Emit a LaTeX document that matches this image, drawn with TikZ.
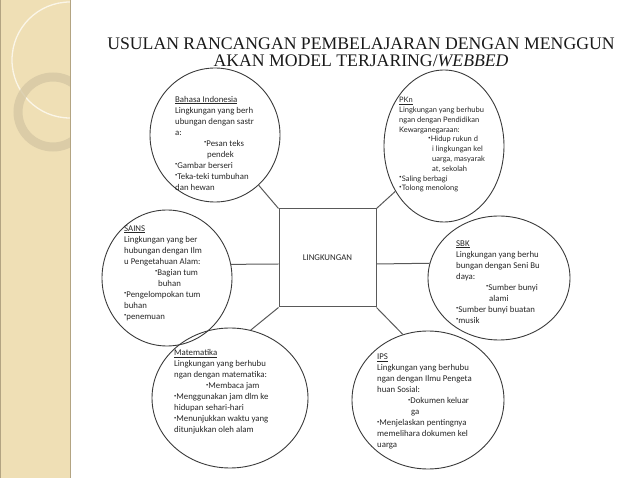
\documentclass[tikz,border=0pt]{standalone}
\usepackage{fontspec}
\setmainfont{Carlito}
\newfontfamily\titlefont{Liberation Serif}
\newfontfamily\gillfont{Lato}
\usetikzlibrary{shapes.geometric}
\definecolor{panel}{HTML}{EFDFB5}
\definecolor{panelline}{HTML}{B3A482}
\definecolor{ringc}{HTML}{D6C8A4}
\definecolor{arcc}{HTML}{FBF6E8}
\definecolor{outline}{HTML}{3A3A3A}
\definecolor{conn}{HTML}{595959}
\newcommand\bul{\raisebox{0.3em}{\fontsize{4.5pt}{4.5pt}\selectfont\textbullet}}
\begin{document}
\begin{tikzpicture}[x=1pt,y=1pt,
  bubble/.style={draw=outline, line width=0.9pt, ellipse, inner sep=0pt, minimum width=#1},
  body/.style={anchor=north west, inner sep=0pt, align=left, text=black!85, font=\fontsize{8.8pt}{11pt}\selectfont},
  pknbody/.style={anchor=north west, inner sep=0pt, align=left, text=black!85, font=\gillfont\fontsize{7.5pt}{9.8pt}\selectfont},
  link/.style={draw=conn, line width=1pt},
  ttl/.style={anchor=base, inner sep=0pt, font=\titlefont\fontsize{17.7pt}{17pt}\selectfont}]
\useasboundingbox (0,0) rectangle (638,-478);
% side panel
\fill[panel] (0,0) rectangle (70,-478);
\begin{scope}
\clip (0,0) rectangle (70,-478);
\draw[arcc, line width=1.3pt] (70,-60) circle (58pt);
\draw[ringc, line width=9pt, opacity=0.8] (53,-112) circle (35pt);
\end{scope}
\draw[panelline, line width=0.8pt] (70,0) -- (70,-478);
\draw[panelline, line width=0.8pt] (0.4,0) -- (0.4,-478);
% title
\node[ttl, text=black!90] (t1) at (361,-50) {USULAN RANCANGAN PEMBELAJARAN DENGAN MENGGUN};
\node[ttl, text=black!90] (t2) at (361,-67) {AKAN MODEL TERJARING/\textit{WEBBED}};
% bubbles
\node[bubble=130pt, minimum height=134pt] (bahasa) at (215,-135) {};
\node[bubble=120pt, minimum height=152pt] (pkn) at (444,-146) {};
\node[bubble=130pt, minimum height=136pt] (sains) at (167,-278) {};
\node[bubble=142pt, minimum height=124pt] (sbk) at (499,-278) {};
\node[bubble=156pt, minimum height=140pt] (mat) at (230,-398) {};
\node[bubble=152pt, minimum height=138pt] (ips) at (428,-400) {};
% centre
\node[draw=conn, line width=1pt, minimum width=97pt, minimum height=98pt, inner sep=0pt,
      font=\fontsize{8.8pt}{10pt}\selectfont, text=black!85] (box) at (327.5,-258) {LINGKUNGAN};
% connectors
\draw[link] (box.north west) -- (bahasa.311.4);
\draw[link] (box.north east) -- (pkn.223.2);
\draw[link] ([yshift=-6pt]box.west) -- (sains.12.4);
\draw[link] ([yshift=-6pt]box.east) -- (sbk.168.6);
\draw[link] (box.south west) -- (mat.73.3);
\draw[link] (box.south east) -- (ips.111);
% texts
\node[body] (tbahasa) at (175,-94.3) {\strut\underline{Bahasa Indonesia}\\
Lingkungan yang berh\\
ubungan dengan sastr\\
a:\\
\hspace*{29pt}\bul Pesan teks\\
\hspace*{32pt}pendek\\
\bul Gambar berseri\\
\bul Teka-teki tumbuhan\\
dan hewan};
\node[pknbody] (tpkn) at (399,-95.6) {\strut\underline{PKn}\\
Lingkungan yang berhubu\\
ngan dengan Pendidikan\\
Kewarganegaraan:\\
\hspace*{29pt}\bul Hidup rukun d\\
\hspace*{33pt}i lingkungan kel\\
\hspace*{33pt}uarga, masyarak\\
\hspace*{33pt}at, sekolah\\
\bul Saling berbagi\\
\bul Tolong menolong};
\node[body] (tsains) at (124,-223.3) {\strut\underline{SAINS}\\
Lingkungan yang ber\\
hubungan dengan Ilm\\
u Pengetahuan Alam:\\
\hspace*{31pt}\bul Bagian tum\\
\hspace*{34pt}buhan\\
\bul Pengelompokan tum\\
buhan\\
\bul penemuan};
\node[body] (tsbk) at (456,-238.3) {\strut\underline{SBK}\\
Lingkungan yang berhu\\
bungan dengan Seni Bu\\
daya:\\
\hspace*{30pt}\bul Sumber bunyi\\
\hspace*{33pt}alami\\
\bul Sumber bunyi buatan\\
\bul musik};
\node[body] (tmat) at (174,-347.8) {\strut\underline{Matematika}\\
Lingkungan yang berhubu\\
ngan dengan matematika:\\
\hspace*{32pt}\bul Membaca jam\\
\bul Menggunakan jam dlm ke\\
hidupan sehari-hari\\
\bul Menunjukkan waktu yang\\
ditunjukkan oleh alam};
\node[body] (tips) at (377,-351.8) {\strut\underline{IPS}\\
Lingkungan yang berhubu\\
ngan dengan Ilmu Pengeta\\
huan Sosial:\\
\hspace*{31pt}\bul Dokumen keluar\\
\hspace*{34pt}ga\\
\bul Menjelaskan pentingnya\\
memelihara dokumen kel\\
uarga};
\end{tikzpicture}
\end{document}
